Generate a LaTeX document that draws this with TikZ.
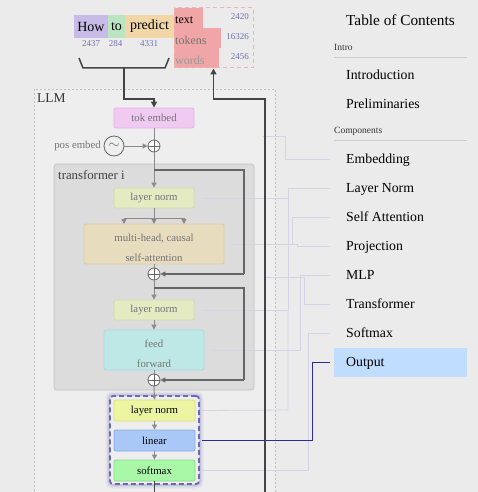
\documentclass[tikz,border=0pt]{standalone}
\usepackage{fontspec}
\setmainfont{Liberation Serif}
\usetikzlibrary{arrows.meta}
\definecolor{bg}{HTML}{EBEBEB}
\definecolor{llmfill}{HTML}{EEEEEE}
\definecolor{llmdraw}{HTML}{BDBDBD}
\definecolor{trfill}{HTML}{DCDCDC}
\definecolor{trdraw}{HTML}{C2C2C2}
\definecolor{howc}{HTML}{C9BBE8}
\definecolor{toc}{HTML}{B9E6C0}
\definecolor{predc}{HTML}{F2D6A6}
\definecolor{numc}{HTML}{7070B0}
\definecolor{pinkbar}{HTML}{F0A6A6}
\definecolor{pinkdash}{HTML}{F0B4B4}
\definecolor{tokembf}{HTML}{F0CAF0}
\definecolor{tokembd}{HTML}{E2B6E2}
\definecolor{lnf}{HTML}{E4EAC2}
\definecolor{lnd}{HTML}{D2DAA6}
\definecolor{mhaf}{HTML}{E8DCBE}
\definecolor{mhad}{HTML}{DCCBA2}
\definecolor{fff}{HTML}{BEE8E6}
\definecolor{ffd}{HTML}{A8DAD8}
\definecolor{lnthreef}{HTML}{EEF5A2}
\definecolor{lnthreed}{HTML}{D6DF86}
\definecolor{linf}{HTML}{A9C8F8}
\definecolor{lind}{HTML}{8AAAE2}
\definecolor{smf}{HTML}{A8F8A8}
\definecolor{smd}{HTML}{8ADA8A}
\definecolor{connc}{HTML}{D4D4E4}
\definecolor{outc}{HTML}{2B2B9B}
\definecolor{hl}{HTML}{C0DCFF}
\definecolor{lbl}{HTML}{747474}
\definecolor{garrc}{HTML}{8A8A8A}
\definecolor{resc}{HTML}{666666}
\definecolor{mainc}{HTML}{444444}
\definecolor{glowc}{HTML}{8080C8}
\definecolor{odash}{HTML}{6A6AB0}
\newcommand{\twolines}[2]{\raisebox{-3pt}[\height][\depth]{\begin{tabular}{@{}c@{}}#1\\#2\end{tabular}}}
\tikzset{
  blk/.style={draw, rounded corners=2, inner sep=0, minimum width=80, minimum height=20,
    font=\fontsize{10.8}{12}\selectfont, text=lbl, line width=0.8},
  tokb/.style={inner sep=0, minimum height=23, font=\fontsize{14}{16}\selectfont},
  numt/.style={inner sep=0, font=\fontsize{9}{10}\selectfont, text=numc},
  garr/.style={draw=garrc, line width=1, -{Triangle[length=5pt,width=5pt]}},
  gline/.style={draw=garrc, line width=1},
  resline/.style={draw=resc, line width=1.5},
  resarr/.style={draw=resc, line width=1.5, -{Triangle[open,length=5pt,width=5pt]}},
  mainarr/.style={draw=mainc, line width=1.5, -{Triangle[length=6pt,width=6pt]}},
  plusn/.style={circle, draw=resc, fill=white!90!bg, minimum size=12, inner sep=0, line width=0.8,
    path picture={\draw[resc, line width=0.8] (path picture bounding box.north) -- (path picture bounding box.south)
      (path picture bounding box.west) -- (path picture bounding box.east);}},
  connl/.style={draw=connc, line width=0.8},
  tocitem/.style={anchor=west, inner sep=0, text height=11, text depth=2, font=\fontsize{13.8}{15}\selectfont},
  tochead/.style={anchor=west, inner sep=0, text height=7, text depth=2, font=\fontsize{9.5}{11}\selectfont, text=black!80},
}
\begin{document}
\begin{tikzpicture}[x=1pt,y=-1pt]
\useasboundingbox (0,0) rectangle (478,492);
\clip (0,0) rectangle (478,492);
\fill[bg] (0,0) rectangle (478,492);

% LLM box
\draw[llmdraw, fill=llmfill, dash pattern=on 2pt off 2pt, line width=0.8] (34,89) rectangle (275,520);
\node[anchor=west, inner sep=0, font=\fontsize{13.5}{15}\selectfont, text=black!80] (llm) at (37,98) {LLM};

% input tokens
\node[tokb, fill=howc, minimum width=34] (how) at (91,26.5) {How};
\node[tokb, fill=toc, minimum width=17] (to) at (116.5,26.5) {to};
\node[tokb, fill=predc, minimum width=49] (pred) at (149.5,26.5) {predict};
\node[numt] (n1) at (91,44) {2437};
\node[numt] (n2) at (115.5,44) {284};
\node[numt] (n3) at (149,44) {4331};
\draw[mainc, line width=1.5] (79,58) -- (83,68) -- (165,68) -- (169,58);
\coordinate (brk) at (124,68);

% output stats box
\fill[pinkbar] (174,8) rectangle (203,28);
\fill[pinkbar] (174,28) rectangle (221,48);
\fill[pinkbar] (174,48) rectangle (219,68);
\node[draw=pinkdash, dash pattern=on 4pt off 3pt, line width=1, minimum width=79, minimum height=60, inner sep=0] (stats) at (213.5,38) {};
\node[anchor=west, inner sep=0, font=\fontsize{12}{14}\selectfont] (ltext) at (175,20.5) {text};
\node[anchor=west, inner sep=0, font=\fontsize{12}{14}\selectfont, text=black!55] (ltok) at (175,40.5) {tokens};
\node[anchor=west, inner sep=0, font=\fontsize{12}{14}\selectfont, text=black!40] (lwords) at (175,60.5) {words};
\node[numt, anchor=east] (s1) at (249,17) {2420};
\node[numt, anchor=east] (s2) at (249,37) {16326};
\node[numt, anchor=east] (s3) at (249,57) {2456};

% embedding
\node[blk, fill=tokembf, draw=tokembd] (tokemb) at (154,118) {tok embed};
\node[anchor=east, inner sep=0, font=\fontsize{10.8}{12}\selectfont, text=lbl] (posl) at (101,146) {pos embed};
\node[circle, draw=resc, minimum size=20, inner sep=0, line width=0.8, text=resc, font=\Large] (pos) at (114,146) {$\sim$};
\node[plusn] (p1) at (154,146) {};

% transformer block
\draw[trdraw, fill=trfill, rounded corners=3, line width=0.8] (54,164) rectangle (254,390);
\node[anchor=west, inner sep=0, font=\fontsize{12.8}{14}\selectfont, text=black!75] (trl) at (58,175) {transformer i};
\node[blk, fill=lnf, draw=lnd] (ln1) at (154,198) {layer norm};
\node[blk, fill=mhaf, draw=mhad, minimum width=140, minimum height=40,
  font=\fontsize{10.8}{20}\selectfont] (mha) at (154,244) {\twolines{multi-head, causal}{self-attention}};
\node[plusn] (p2) at (154,274) {};
\node[blk, fill=lnf, draw=lnd] (ln2) at (154,310) {layer norm};
\node[blk, fill=fff, draw=ffd, minimum width=100, minimum height=40,
  font=\fontsize{10.8}{20}\selectfont] (ff) at (154,350) {\twolines{feed}{forward}};
\node[plusn] (p3) at (154,380) {};

% output block with glow
\foreach \w/\o in {9/0.10,6/0.14,3.5/0.2}
  \draw[glowc, line width=\w, opacity=\o, rounded corners=3] (110,396) rectangle (199,484);
\node[draw=odash, fill=llmfill, dash pattern=on 5pt off 3pt, line width=1.8, rounded corners=3,
  minimum width=89, minimum height=88, inner sep=0] (outbox) at (154.5,440) {};
\node[blk, fill=lnthreef, draw=lnthreed, minimum width=81, minimum height=21, text=black] (ln3) at (154.5,410.5) {layer norm};
\node[blk, fill=linf, draw=lind, minimum width=81, minimum height=21, text=black] (lin) at (154.5,440.5) {linear};
\node[blk, fill=smf, draw=smd, minimum width=81, minimum height=21, text=black] (smax) at (154.5,470.5) {softmax};

% table of contents
\node[anchor=west, inner sep=0, font=\fontsize{15.3}{17}\selectfont] (tochd) at (346,20) {Table of Contents};
\node[tochead] (intro) at (334,48) {Intro};
\draw[black!20, line width=0.8] (334,57) -- (467,57);
\node[tocitem] (tIntro) at (346,75) {Introduction};
\node[tocitem] (tPre) at (346,104) {Preliminaries};
\node[tochead] (comp) at (334,131) {Components};
\draw[black!20, line width=0.8] (334,140) -- (467,140);
\node[tocitem] (tEmb) at (346,159) {Embedding};
\node[tocitem] (tLN) at (346,188) {Layer Norm};
\node[tocitem] (tSA) at (346,217) {Self Attention};
\node[tocitem] (tProj) at (346,246) {Projection};
\node[tocitem] (tMLP) at (346,275) {MLP};
\node[tocitem] (tTr) at (346,304) {Transformer};
\node[tocitem] (tSm) at (346,333) {Softmax};
\fill[hl] (334,348) rectangle (467,377);
\node[tocitem] (tOut) at (346,362) {Output};

% connectors to table of contents
\coordinate (embc) at (263,136);
\coordinate (trc) at (264,277);
\draw[connl] (embc) -- (285,136) |- ([xshift=-16]tEmb.west);
\draw[connl] ([xshift=8]ln1.east) -- (288,198) |- ([xshift=-16]tLN.west);
\draw[connl] ([xshift=8]ln2.east) -- (288,310) -- (288,198);
\draw[connl] ([xshift=7]ln3.east) -- (288,410) -- (288,310);
\draw[connl] ([xshift=9]mha.east) -- (292,244) |- ([xshift=-16]tSA.west);
\draw[connl] (292,244) -- (297,244) |- ([xshift=-16]tProj.west);
\draw[connl] ([xshift=8]ff.east) -- (300,350) |- ([xshift=-16]tMLP.west);
\draw[connl] (trc) -- (304,277) |- ([xshift=-16]tTr.west);
\draw[connl] ([xshift=7]smax.east) -- (308,470.5) |- ([xshift=-16]tSm.west);
\draw[outc, line width=1] ([xshift=7]lin.east) -- (312,440.5) |- ([xshift=-16]tOut.west);

% main flow
\draw[mainarr] (brk) -- (124,99) -| (tokemb.north);
\draw[mainarr] (smax.south) -- (154.5,500) -- (265,500) -- (265,99) -| (stats.south);
\draw[gline] (tokemb.south) -- (p1.north);
\draw[garr] (pos.east) -- (p1.west);
\draw[garr] (p1.south) -- (ln1.north);
\draw[resline] (154,170) -- (244,170) -- (244,274);
\draw[resarr] (244,274) -- (p2.east);
\draw[gline] (ln1.south) -- (154,218) (124,218) -- (184,218);
\foreach \xx in {124,154,184} \draw[garr] (\xx,218) -- (\xx,224);
\draw[gline] (mha.south) -- (p2.north);
\draw[garr] (p2.south) -- (ln2.north);
\draw[resline] (154,288) -- (244,288) -- (244,380);
\draw[resarr] (244,380) -- (p3.east);
\draw[garr] (ln2.south) -- (ff.north);
\draw[gline] (ff.south) -- (p3.north);
\draw[garr] (p3.south) -- (ln3.north);
\draw[garr] (ln3.south) -- (lin.north);
\draw[garr] (lin.south) -- (smax.north);
\end{tikzpicture}
\end{document}
